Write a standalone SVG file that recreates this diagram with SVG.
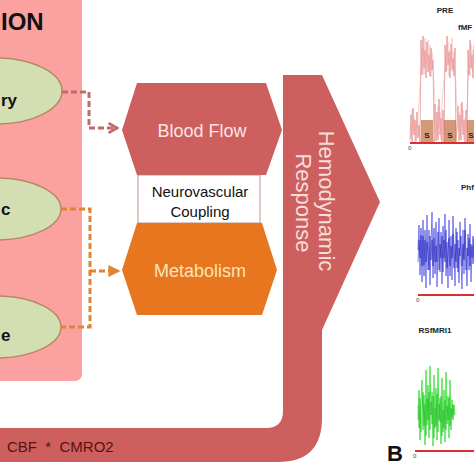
<svg xmlns="http://www.w3.org/2000/svg" width="474" height="474" viewBox="0 0 474 474">
<style>
.sans{font-family:"Liberation Sans",Arial,sans-serif}
.lbl{font-family:"Liberation Sans",Arial,sans-serif;font-weight:bold;font-size:17px;fill:#111}
.ell{fill:#d3deb2;stroke:#b58a60;stroke-width:1.5}
.red{fill:#cd605e}
.dashR{fill:none;stroke:#c06a6a;stroke-width:3;stroke-dasharray:6 3}
.dashO{fill:none;stroke:#e08432;stroke-width:3;stroke-dasharray:6 3}
.small{font-family:"Liberation Sans",Arial,sans-serif;font-weight:bold;font-size:8px;fill:#222}
.zero{font-family:"Liberation Sans",Arial,sans-serif;font-size:6px;fill:#444}
.axis{stroke:#d83030;stroke-width:2}
</style>
<defs>
<marker id="arR" viewBox="0 0 10 10" refX="8" refY="5" markerWidth="4" markerHeight="4" orient="auto">
<path d="M1,1 L8,5 L1,9" fill="none" stroke="#c06a6a" stroke-width="2.2"/>
</marker>
<marker id="arO" viewBox="0 0 10 10" refX="8" refY="5" markerWidth="4" markerHeight="4" orient="auto">
<path d="M0,0 L10,5 L0,10 Z" fill="#e08432"/>
</marker>
</defs>
<rect width="474" height="474" fill="#ffffff"/>

<g id="panel">
<rect x="-20" y="-20" width="102" height="401" rx="7" fill="#fba2a0"/>
<text x="1" y="30" class="sans" font-weight="bold" font-size="24" fill="#111">ION</text>
</g>

<g id="node-sensory">
<ellipse cx="-4" cy="91" rx="66" ry="33" class="ell"/>
<text x="1" y="106" class="lbl">ry</text>
</g>
<g id="node-metabolic">
<ellipse cx="-4" cy="209" rx="65" ry="31" class="ell"/>
<text x="1" y="215" class="lbl">c</text>
</g>
<g id="node-state">
<ellipse cx="-4" cy="327" rx="65" ry="31" class="ell"/>
<text x="1" y="341" class="lbl">e</text>
</g>

<g id="connectors">
<path d="M62,92 H89 V128 H117" class="dashR" marker-end="url(#arR)"/>
<path d="M61,209 H90 V327 H61" class="dashO"/>
<path d="M90,271 H118" class="dashO" marker-end="url(#arO)"/>
</g>

<g id="node-hemodynamic">
<path d="M283,75 L322,75 L380,202 L322,330 L322,418 Q322,462 278,462 L-5,462 L-5,428 L266,428 Q283,428 283,411 Z" class="red"/>
<text transform="translate(319,201) rotate(90)" text-anchor="middle" class="sans" font-size="22" fill="#f7dcdc">Hemodynamic</text>
<text transform="translate(296,203) rotate(90)" text-anchor="middle" class="sans" font-size="22" fill="#f7dcdc">Response</text>
<text x="7" y="452" class="sans" font-size="15" fill="#5a1010" xml:space="preserve">CBF  *  CMRO2</text>
</g>

<g id="node-bloodflow">
<polygon points="122,130 137,83 266,83 282,130 266,175 137,175" class="red"/>
<text x="202" y="137" text-anchor="middle" class="sans" font-size="18" fill="#f9e6e6">Blood Flow</text>
</g>
<g id="node-coupling">
<rect x="138" y="175" width="122" height="48" fill="#ffffff" stroke="#b07a70" stroke-width="0.8"/>
<text x="200" y="197" text-anchor="middle" class="sans" font-size="15" fill="#111">Neurovascular</text>
<text x="200" y="217" text-anchor="middle" class="sans" font-size="15" fill="#111">Coupling</text>
</g>
<g id="node-metabolism">
<polygon points="122,270 137,223 262,223 277,270 262,315 137,315" fill="#e8761f"/>
<text x="200" y="277" text-anchor="middle" class="sans" font-size="18" fill="#fbe4b8">Metabolism</text>
</g>

<g id="plot-pre">
<text x="445" y="13" text-anchor="middle" class="small">PRE</text>
<text x="458" y="30" class="small">fMF</text>
<rect x="421" y="120" width="12" height="23" fill="#d49a78"/>
<rect x="444" y="120" width="12" height="23" fill="#d49a78"/>
<rect x="467" y="120" width="7" height="23" fill="#d49a78"/>
<text x="427" y="138" text-anchor="middle" class="small">S</text>
<text x="450" y="138" text-anchor="middle" class="small">S</text>
<text x="471" y="138" text-anchor="middle" class="small">S</text>
<g fill="none" stroke-linejoin="round">
<polyline stroke="#d85a5a" stroke-opacity="0.55" stroke-width="0.9" points="410,140 411,115 412,142 413,108 414,135 415,120 416,141 417,112 418,138 419,125 420,142 421,40 422,75 423,36 424,68 425,50 426,78 427,42 428,72 429,55 430,76 431,48 432,70 433,60 434,142 435,104 436,141 437,112 438,140 439,99 440,135 441,118 442,142 443,110 444,142 445,45 446,72 447,36 448,65 449,52 450,78 451,44 452,70 453,58 454,76 455,48 456,142 457,125 458,106 459,141 460,115 461,140 462,102 463,135 464,120 465,142 466,110 467,142 468,50 469,75 470,40 471,68 472,55 473,78 474,45"/>
<polyline stroke="#f0a0a0" stroke-opacity="0.6" stroke-width="0.8" points="410,125 411,138 412,110 413,132 414,118 415,142 416,122 417,136 418,115 422,60 423,48 424,74 425,38 426,66 427,58 428,40 429,70 430,45 431,77 432,52 433,66 436,120 437,138 438,106 439,128 440,112 441,140 442,102 446,58 447,70 448,42 449,76 450,50 451,62 452,38 453,72 454,52 455,66 458,130 459,112 460,138 461,104 462,126 463,110 464,140 465,118 466,132 469,62 470,76 471,44 472,70 473,50 474,66"/>
</g>
<line x1="410" y1="143" x2="474" y2="143" class="axis"/>
<text x="408" y="150" class="zero">0</text>
</g>

<g id="plot-phf">
<text x="461" y="190" class="small">Phf</text>
<g fill="none" stroke-linejoin="round">
<polyline stroke="#6a6af0" stroke-width="0.9" points="418,250 419,225 420,275 421,235 422,282 423,220 424,265 425,240 426,288 427,215 428,270 429,230 430,285 431,245 432,212 433,278 434,238 435,262 436,222 437,287 438,248 439,218 440,272 441,232 442,284 443,226 444,258 445,214 446,276 447,242 448,288 449,220 450,266 451,236 452,280 453,216 454,252 455,286 456,228 457,268 458,240 459,283 460,222 461,260 462,289 463,230 464,274 465,218 466,256 467,286 468,234 469,270 470,224 471,282 472,246 473,264 474,238"/>
<polyline stroke="#2020b0" stroke-opacity="0.7" stroke-width="0.8" points="418,262 419,240 420,258 421,228 422,266 423,236 424,276 425,230 426,262 427,242 428,252 429,270 430,236 431,260 432,240 433,266 434,228 435,274 436,246 437,262 438,232 439,270 440,244 441,258 442,236 443,272 444,240 445,262 446,230 447,268 448,250 449,238 450,276 451,246 452,258 453,234 454,268 455,244 456,262 457,232 458,272 459,248 460,256 461,236 462,266 463,244 464,260 465,230 466,270 467,248 468,256 469,238 470,266 471,244 472,258 473,236 474,262"/>
</g>
<line x1="418" y1="295" x2="474" y2="295" class="axis"/>
<text x="416" y="302" class="zero">0</text>
</g>

<g id="plot-rsfmri">
<text x="435" y="333" text-anchor="middle" class="small">RSfMRI1</text>
<g fill="none" stroke-linejoin="round">
<polyline stroke="#40e040" stroke-width="0.9" points="418,420 419,390 420,440 421,400 422,380 423,430 424,395 425,445 426,370 427,425 428,385 429,438 430,366 431,415 432,392 433,446 434,375 435,428 436,388 437,440 438,368 439,420 440,398 441,444 442,378 443,432 444,390 445,442 446,372 447,424 448,396 449,438 450,380 451,430 452,400 453,420 454,405 455,415"/>
<polyline stroke="#10b010" stroke-opacity="0.6" stroke-width="0.8" points="418,405 419,428 420,398 421,432 422,410 423,392 424,426 425,404 426,436 427,398 428,420 429,392 430,430 431,402 432,424 433,396 434,438 435,408 436,426 437,394 438,432 439,404 440,422 441,396 442,436 443,410 444,428 445,400 446,430 447,406 448,420 449,398 450,426 451,408 452,418 453,404 454,416"/>
</g>
<line x1="415" y1="451" x2="474" y2="451" class="axis"/>
<text x="413" y="458" class="zero">0</text>
<text x="387" y="461" class="sans" font-weight="bold" font-size="22" fill="#111">B</text>
</g>
</svg>
